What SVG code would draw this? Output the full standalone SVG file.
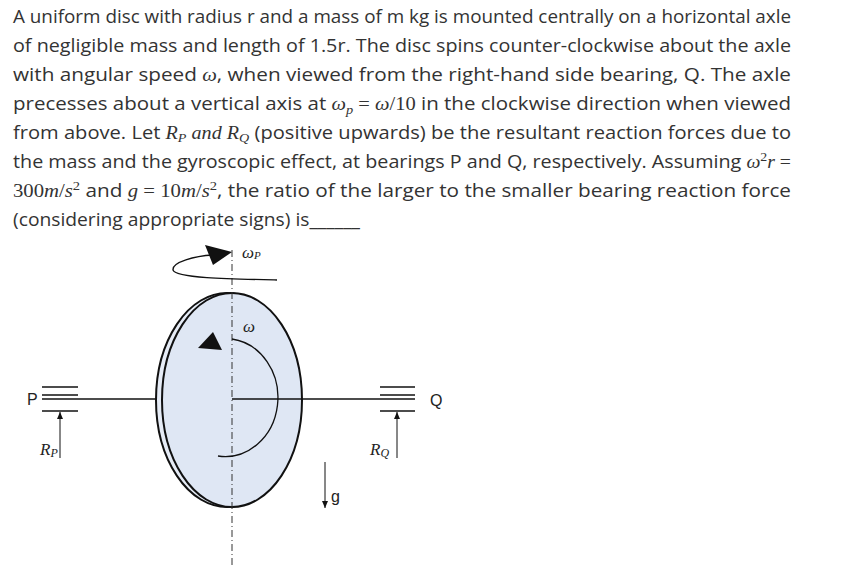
<svg xmlns="http://www.w3.org/2000/svg" width="845" height="578" viewBox="0 0 845 578">
<style>
.t{font-family:"Open Sans","Noto Sans",sans-serif;font-size:18.5px;fill:#333}
.m{font-family:"Liberation Serif",serif;font-style:italic}
.mu{font-family:"Liberation Serif",serif}
.l{font-family:"Liberation Sans",sans-serif;font-size:16px;fill:#222}
.li{font-family:"Liberation Serif",serif;font-style:italic;font-size:17px;fill:#222}
.s{stroke:#111;fill:none;stroke-width:1.3}
</style>
<defs>
<marker id="ah" markerWidth="8" markerHeight="8" refX="7" refY="4" orient="auto" markerUnits="userSpaceOnUse"><path d="M0,1 L7,4 L0,7 Z" fill="#111"/></marker>
</defs>
<rect width="845" height="578" fill="#fff"/>
<g id="question">
<text class="t" x="13" y="23" textLength="778" lengthAdjust="spacingAndGlyphs">A uniform disc with radius r and a mass of m kg is mounted centrally on a horizontal axle</text>
<text class="t" x="13" y="52" textLength="778" lengthAdjust="spacingAndGlyphs">of negligible mass and length of 1.5r. The disc spins counter-clockwise about the axle</text>
<text class="t" x="13" y="81" textLength="778" lengthAdjust="spacingAndGlyphs">with angular speed <tspan class="m">ω</tspan>, when viewed from the right-hand side bearing, Q. The axle</text>
<text class="t" x="13" y="110" textLength="778" lengthAdjust="spacingAndGlyphs">precesses about a vertical axis at <tspan class="m">ω</tspan><tspan class="m" font-size="13" dy="4">p</tspan><tspan dy="-4" class="mu"> = </tspan><tspan class="m">ω</tspan><tspan class="mu">/10</tspan> in the clockwise direction when viewed</text>
<text class="t" x="13" y="139" textLength="778" lengthAdjust="spacingAndGlyphs">from above. Let <tspan class="m">R</tspan><tspan class="m" font-size="13" dy="3">P</tspan><tspan class="m" dy="-3"> and R</tspan><tspan class="m" font-size="13" dy="3">Q</tspan><tspan dy="-3"> (positive upwards) be the resultant reaction forces due to</tspan></text>
<text class="t" x="13" y="168" textLength="778" lengthAdjust="spacingAndGlyphs">the mass and the gyroscopic effect, at bearings P and Q, respectively. Assuming <tspan class="m">ω</tspan><tspan class="mu" font-size="13" dy="-7">2</tspan><tspan class="m" dy="7">r</tspan><tspan class="mu"> =</tspan></text>
<text class="t" x="13" y="197" textLength="778" lengthAdjust="spacingAndGlyphs"><tspan class="mu">300</tspan><tspan class="m">m</tspan><tspan class="mu">/</tspan><tspan class="m">s</tspan><tspan class="mu" font-size="13" dy="-7">2</tspan><tspan dy="7"> and </tspan><tspan class="m">g</tspan><tspan class="mu"> = 10</tspan><tspan class="m">m</tspan><tspan class="mu">/</tspan><tspan class="m">s</tspan><tspan class="mu" font-size="13" dy="-7">2</tspan><tspan dy="7">, the ratio of the larger to the smaller bearing reaction force</tspan></text>
<text class="t" x="13" y="226" textLength="347" lengthAdjust="spacingAndGlyphs">(considering appropriate signs) is______</text>
</g>
<g id="axis"><line x1="232" y1="250" x2="232" y2="566" stroke="#333" stroke-width="1" stroke-dasharray="7,3,1,3"/></g>
<g id="axle"><line x1="42" y1="399" x2="415" y2="399" stroke="#111" stroke-width="1.5"/></g>
<g id="disc">
<ellipse cx="227" cy="400" rx="71" ry="107" fill="#e6ecf6" stroke="#111" stroke-width="2"/>
<ellipse cx="232" cy="400" rx="70" ry="107" fill="#dfe7f4" stroke="#111" stroke-width="2"/>
<line x1="232" y1="292" x2="232" y2="508" stroke="#333" stroke-width="1" stroke-dasharray="7,3,1,3"/>
<line x1="232" y1="399" x2="302" y2="399" stroke="#111" stroke-width="1.5"/>
</g>
<g id="bearingP">
<line x1="42" y1="387" x2="78" y2="387" class="s"/>
<line x1="42" y1="395" x2="78" y2="395" class="s"/>
<line x1="42" y1="411" x2="78" y2="411" class="s"/>
<text class="l" x="27" y="405">P</text>
</g>
<g id="bearingQ">
<line x1="380" y1="387" x2="415" y2="387" class="s"/>
<line x1="380" y1="395" x2="415" y2="395" class="s"/>
<line x1="380" y1="411" x2="415" y2="411" class="s"/>
<text class="l" x="430" y="406">Q</text>
</g>
<g id="connectors">
<line x1="60" y1="458" x2="60" y2="412" stroke="#111" stroke-width="1" marker-end="url(#ah)"/>
<line x1="397" y1="458" x2="397" y2="412" stroke="#111" stroke-width="1" marker-end="url(#ah)"/>
<line x1="325" y1="462" x2="325" y2="508" stroke="#111" stroke-width="1" marker-end="url(#ah)"/>
<path d="M232,339 A52,58 0 0 1 218,456" class="s" stroke-width="1"/>
<polygon points="198,348 222,350 213,332" fill="#111"/>
<path d="M277,280 C230,279 175,278 173,270 C172,262 195,256 213,255" class="s" stroke-width="1"/>
<polygon points="205,245 232,252 213,265" fill="#111"/>
</g>
<g id="labels">
<text class="li" x="40" y="455">R<tspan font-size="12" dy="2">P</tspan></text>
<text class="li" x="370" y="455">R<tspan font-size="12" dy="2">Q</tspan></text>
<text class="l" x="331" y="502" font-size="18">g</text>
<text class="li" x="243" y="332">ω</text>
<text class="li" x="242" y="258">ω<tspan font-size="11" dy="1">P</tspan></text>
</g>
</svg>
